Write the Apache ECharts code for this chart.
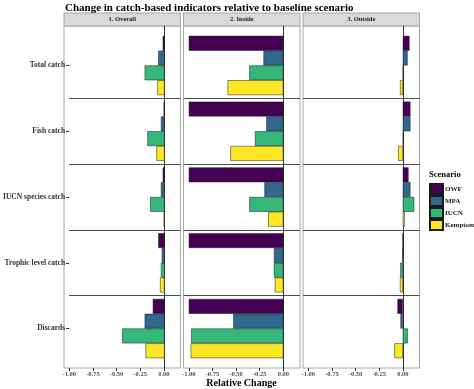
<!DOCTYPE html>
<html><head><meta charset="utf-8">
<script src="https://cdn.jsdelivr.net/npm/echarts@6/dist/echarts.min.js"></script>
<style>html,body{margin:0;padding:0;background:#fff}#c{width:474px;height:389px}</style>
</head><body><div id="c"></div>
<script>
const categories = ['Total catch', 'Fish catch', 'IUCN species catch', 'Trophic level catch', 'Discards'];
const scenarios = ['OWF', 'MPA', 'IUCN', 'Kemptom'];
const areas = ['1. Overall', '2. Inside', '3. Outside'];
const xTicks = [-1, -0.75, -0.5, -0.25, 0];

const overallOWF = [-0.02, -0.01, -0.02, -0.07, -0.13];
const overallMPA = [-0.07, -0.04, -0.04, -0.03, -0.22];
const overallIUCN = [-0.22, -0.19, -0.16, -0.04, -0.47];
const overallKemptom = [-0.08, -0.09, -0.01, -0.05, -0.21];

const insideOWF = [-1.0, -1.0, -1.0, -1.0, -1.0];
const insideMPA = [-0.21, -0.18, -0.20, -0.10, -0.53];
const insideIUCN = [-0.36, -0.30, -0.36, -0.10, -0.975];
const insideKemptom = [-0.59, -0.56, -0.16, -0.09, -0.98];

const outsideOWF = [0.07, 0.08, 0.06, -0.003, -0.057];
const outsideMPA = [0.05, 0.08, 0.08, -0.006, -0.025];
const outsideIUCN = [0.005, 0.005, 0.12, -0.027, 0.053];
const outsideKemptom = [-0.03, -0.05, 0.02, -0.03, -0.09];

const values = [
  [overallOWF, overallMPA, overallIUCN, overallKemptom],
  [insideOWF, insideMPA, insideIUCN, insideKemptom],
  [outsideOWF, outsideMPA, outsideIUCN, outsideKemptom]
];
const colors = ['#440154', '#31688E', '#35B779', '#FDE725'];
const FONT = '"Liberation Serif", "Times New Roman", serif';

const panelLefts = [64, 183.5, 303];
const panelW = 116.5;
const panelTop = 26, panelH = 342;
const unitH = panelH / 5.2;
const dataTop = panelTop + 0.1 * unitH, dataH = 5 * unitH;
const xMin = -1.056, xMax = 0.176;

const grid = [], xAxis = [], yAxis = [], series = [], graphic = [];
areas.forEach((a, i) => {
  const L = panelLefts[i];
  grid.push({left: L, top: panelTop, width: panelW, height: panelH, show: true,
    borderColor: '#A6A6A6', borderWidth: 1, backgroundColor: '#fff'});
  grid.push({left: L, top: dataTop, width: panelW, height: dataH});
  xAxis.push({type: 'value', gridIndex: 2 * i, min: xMin, max: xMax,
    axisLine: {show: false, onZero: false}, splitLine: {show: false},
    axisTick: {show: true, customValues: xTicks, length: 3, lineStyle: {color: '#333'}},
    axisLabel: {customValues: xTicks, formatter: v => v.toFixed(2), fontFamily: FONT,
      fontWeight: 'bold', fontSize: 6.5, color: '#4d4d4d', margin: 3}});
  xAxis.push({type: 'value', gridIndex: 2 * i + 1, min: xMin, max: xMax, show: false});
  yAxis.push({type: 'value', gridIndex: 2 * i, min: 0, max: 1,
    axisLine: {show: true, onZero: true, lineStyle: {color: '#333', width: 1}},
    axisTick: {show: false}, axisLabel: {show: false}, splitLine: {show: false}});
  yAxis.push({type: 'category', gridIndex: 2 * i + 1, data: categories, inverse: true,
    axisLine: {show: false, onZero: false},
    axisTick: {show: i === 0, alignWithLabel: true, length: 3, lineStyle: {color: '#333'}},
    axisLabel: {show: i === 0, fontFamily: FONT, fontWeight: 'bold', fontSize: 7.5, color: '#333', margin: 4},
    splitLine: {show: true, showMinLine: false, showMaxLine: false, lineStyle: {color: '#4d4d4d', width: 1}}});
  scenarios.forEach((s, k) => series.push({
    type: 'bar', name: s, xAxisIndex: 2 * i + 1, yAxisIndex: 2 * i + 1, data: values[i][k],
    barGap: '0%', barCategoryGap: '10%',
    itemStyle: {color: colors[k], borderColor: '#1a1a1a', borderWidth: 0.5}
  }));
  graphic.push({type: 'rect', shape: {x: L, y: 13, width: panelW, height: 13},
    style: {fill: '#D9D9D9', stroke: '#A6A6A6', lineWidth: 1}});
  graphic.push({type: 'text', x: L + panelW / 2, y: 19.5,
    style: {text: a, textAlign: 'center', textVerticalAlign: 'middle',
      font: 'bold 6.5px ' + FONT, fill: '#1a1a1a'}});
});
graphic.push({type: 'text', x: 65, y: 8,
  style: {text: 'Change in catch-based indicators relative to baseline scenario',
    textVerticalAlign: 'middle', font: 'bold 11px ' + FONT, fill: '#000'}});
graphic.push({type: 'text', x: 241.5, y: 383,
  style: {text: 'Relative Change', textAlign: 'center', textVerticalAlign: 'middle',
    font: 'bold 10px ' + FONT, fill: '#000'}});
graphic.push({type: 'text', x: 429, y: 175,
  style: {text: 'Scenario', textVerticalAlign: 'middle', font: 'bold 8.5px ' + FONT, fill: '#000'}});

const chart = echarts.init(document.getElementById('c'), null, {renderer: 'canvas'});
chart.setOption({
  animation: false,
  grid, xAxis, yAxis, series, graphic,
  legend: {data: scenarios, orient: 'vertical', left: 429, top: 183, padding: 0,
    itemWidth: 13, itemHeight: 10, itemGap: 0, icon: 'rect',
    textStyle: {fontFamily: FONT, fontWeight: 'bold', fontSize: 7, color: '#1a1a1a', padding: [0, 0, 0, -3]}}
});
</script></body></html>
